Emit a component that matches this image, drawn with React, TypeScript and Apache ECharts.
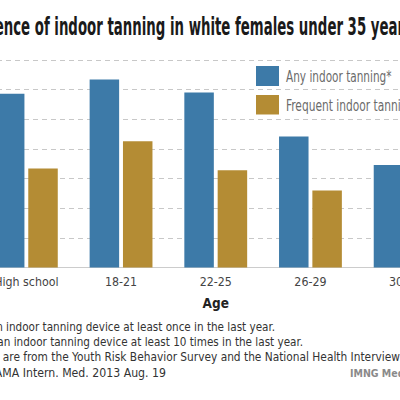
import React, { useEffect, useRef } from "react";
import * as echarts from "echarts";

const categories = ["High school", "18-21", "22-25", "26-29", "30-34"];
const anyTanning = [29.3, 31.7, 29.5, 22.1, 17.3];
const frequentTanning = [16.7, 21.3, 16.4, 13.0, 8.5];
const seriesNames = ["Any indoor tanning*", "Frequent indoor tanning**"];
const seriesColors = ["#3d7aa8", "#b48c34"];
const titleText = "Prevalence of indoor tanning in white females under 35 years";
const footnotes = [
  "*Used an indoor tanning device at least once in the last year.",
  "**Used an indoor tanning device at least 10 times in the last year.",
  "Note: Data are from the Youth Risk Behavior Survey and the National Health Interview Survey.",
  "Source: JAMA Intern. Med. 2013 Aug. 19",
];
const creditText = "IMNG Medical News";

const COND = "'DejaVu Sans Condensed', 'DejaVu Sans', sans-serif";
const OFF = 60;

export default function App() {
  const ref = useRef<HTMLDivElement>(null);
  useEffect(() => {
    const chart = echarts.init(ref.current!, null, { renderer: "svg" });
    chart.setOption({
      animation: false,
      backgroundColor: "#ffffff",
      grid: { left: 39, right: 7.5, top: 60, bottom: 132.5 },
      xAxis: {
        type: "category",
        data: categories,
        axisLine: { lineStyle: { color: "#cccccc", width: 1 } },
        axisTick: { show: false },
        axisLabel: { color: "#444444", fontSize: 12.3, fontFamily: COND, margin: 8, interval: 0 },
        name: "Age",
        nameLocation: "middle",
        nameGap: 28,
        nameTextStyle: { color: "#222222", fontSize: 13.5, fontWeight: "bold", fontFamily: COND },
      },
      yAxis: {
        type: "value",
        min: 0,
        max: 35,
        interval: 5,
        axisLabel: { show: false },
        axisLine: { show: false },
        axisTick: { show: false },
        splitLine: { lineStyle: { color: "#c8c8c8", type: [5, 4], width: 1.2 } },
      },
      series: [
        {
          name: seriesNames[0],
          type: "bar",
          data: anyTanning,
          barWidth: 29.5,
          barGap: "13%",
          itemStyle: { color: seriesColors[0] },
        },
        {
          name: seriesNames[1],
          type: "bar",
          data: frequentTanning,
          barWidth: 29.5,
          itemStyle: { color: seriesColors[1] },
        },
      ],
      graphic: [
        {
          type: "text",
          x: 412 + OFF,
          y: 27,
          scaleX: 0.617,
          style: {
            text: titleText,
            font: `bold 24px ${COND}`,
            fill: "#1a1a1a",
            align: "right",
            verticalAlign: "middle",
          },
        },
        { type: "rect", shape: { x: 256 + OFF, y: 66, width: 23, height: 20 }, style: { fill: seriesColors[0] } },
        { type: "rect", shape: { x: 256 + OFF, y: 95, width: 23, height: 19.5 }, style: { fill: seriesColors[1] } },
        {
          type: "text",
          x: 286 + OFF,
          y: 76,
          scaleX: 0.73,
          style: { text: seriesNames[0], font: `16px ${COND}`, fill: "#6b6b6b", align: "left", verticalAlign: "middle" },
        },
        {
          type: "text",
          x: 286 + OFF,
          y: 105,
          scaleX: 0.74,
          style: { text: seriesNames[1], font: `16px ${COND}`, fill: "#6b6b6b", align: "left", verticalAlign: "middle" },
        },
        {
          type: "text",
          x: 275 + OFF,
          y: 327,
          style: { text: footnotes[0], font: `11.6px ${COND}`, fill: "#333333", align: "right", verticalAlign: "middle" },
        },
        {
          type: "text",
          x: 303 + OFF,
          y: 342,
          style: { text: footnotes[1], font: `11.6px ${COND}`, fill: "#333333", align: "right", verticalAlign: "middle" },
        },
        {
          type: "text",
          x: -58 + OFF,
          y: 357,
          style: { text: footnotes[2], font: `11.8px ${COND}`, fill: "#333333", align: "left", verticalAlign: "middle" },
        },
        {
          type: "text",
          x: 166 + OFF,
          y: 373,
          style: { text: footnotes[3], font: `12.2px ${COND}`, fill: "#333333", align: "right", verticalAlign: "middle" },
        },
        {
          type: "text",
          x: 350 + OFF,
          y: 373,
          style: { text: creditText, font: `bold 10.5px ${COND}`, fill: "#8a8a8a", align: "left", verticalAlign: "middle" },
        },
      ],
    });
    return () => chart.dispose();
  }, []);
  return (
    <div
      ref={ref}
      style={{ position: "fixed", left: -OFF, top: 0, width: 400 + OFF + 60, height: 400 }}
    />
  );
}
